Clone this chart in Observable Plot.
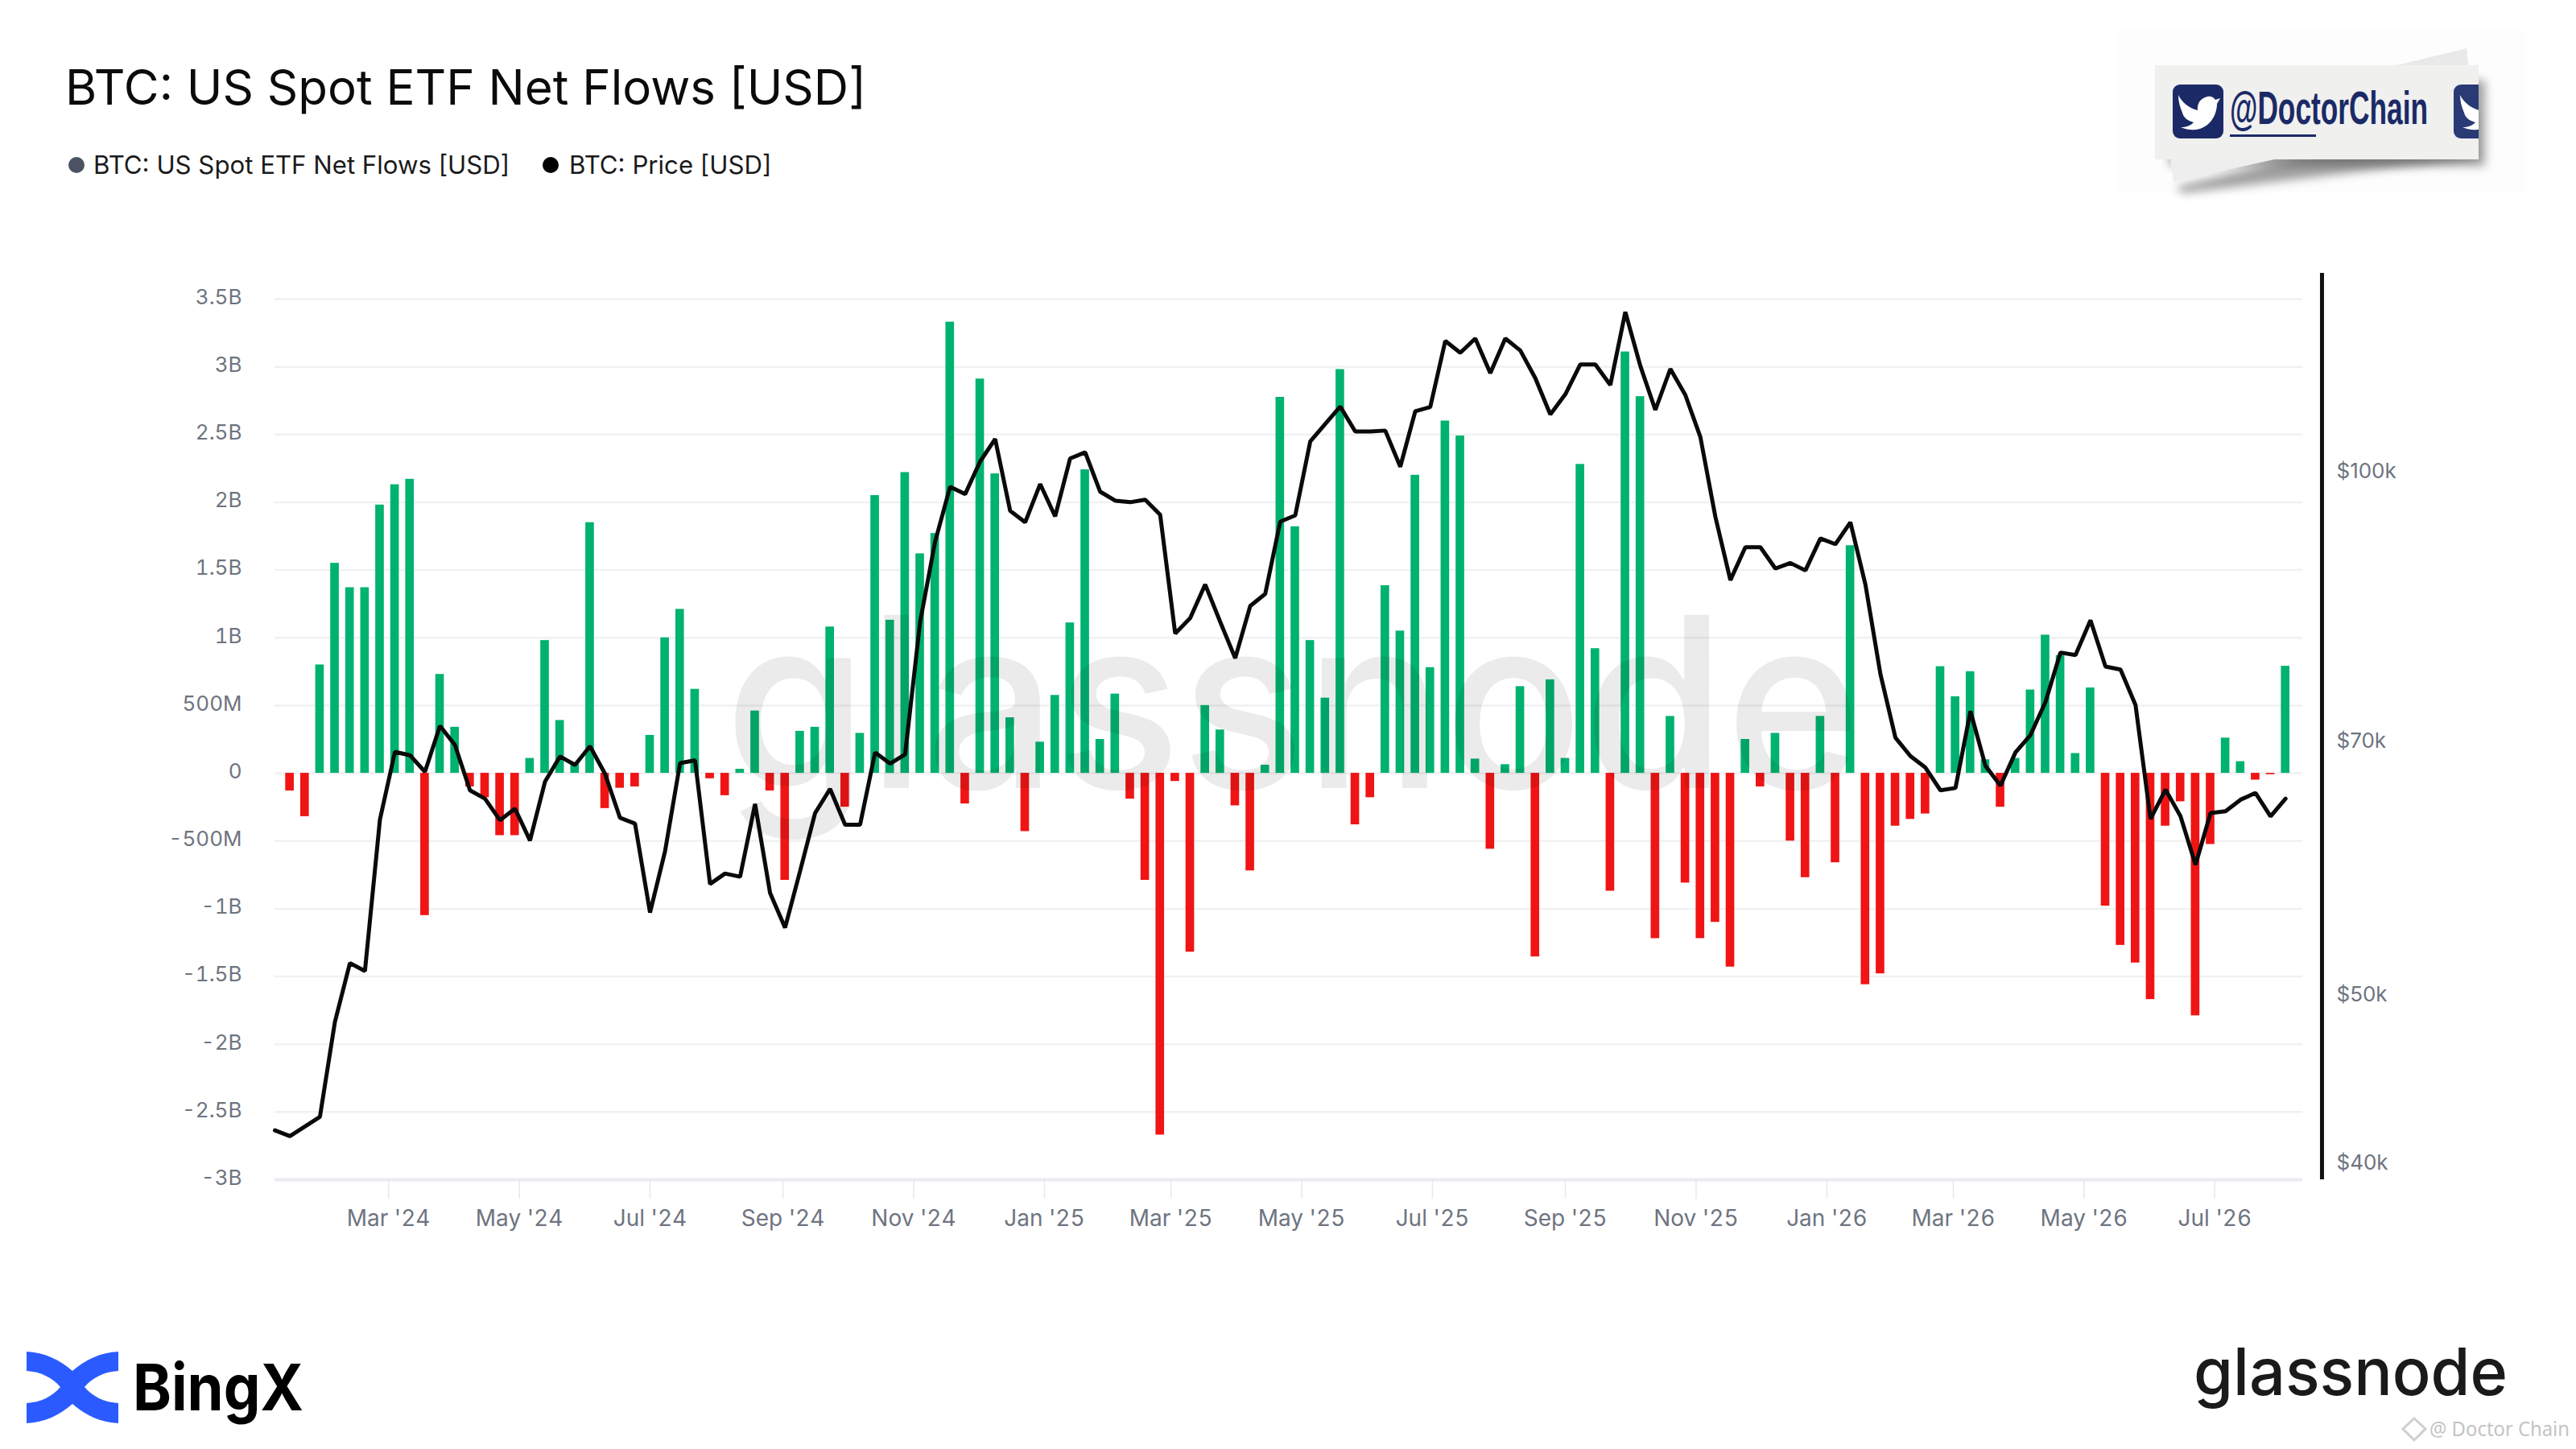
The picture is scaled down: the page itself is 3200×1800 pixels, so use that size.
<!DOCTYPE html>
<html>
<head>
<meta charset="utf-8">
<script src="https://cdn.jsdelivr.net/npm/d3@7"></script>
<script src="https://cdn.jsdelivr.net/npm/@observablehq/plot@0.6"></script>
<style>
html,body{margin:0;padding:0;background:#fff;}
body{width:3200px;height:1800px;position:relative;overflow:hidden;font-family:Inter,sans-serif;}
#head{height:320px;position:relative;}
#title{position:absolute;left:81px;top:72px;font-size:60px;line-height:72px;color:#0b0b0b;font-weight:400;white-space:nowrap;}
.lg{position:absolute;top:186px;font-size:31.2px;line-height:38px;color:#1a1a1a;white-space:nowrap;}
.dot{position:absolute;top:195px;width:20px;height:20px;border-radius:50%;}
#chart{position:absolute;left:0;top:320px;}
#over{position:absolute;left:0;top:0;pointer-events:none;}
</style>
</head>
<body>
<div id="head">
  <div id="title">BTC: US Spot ETF Net Flows [USD]</div>
  <div class="dot" style="left:85px;background:#4a5264"></div>
  <div class="lg" style="left:116px">BTC: US Spot ETF Net Flows [USD]</div>
  <div class="dot" style="left:674px;background:#000"></div>
  <div class="lg" style="left:707px">BTC: Price [USD]</div>
</div>
<div id="chart"></div>
<svg id="over" width="3200" height="1800" viewBox="0 0 3200 1800" xmlns="http://www.w3.org/2000/svg">
  <defs>
    <filter id="sh" x="-10%" y="-30%" width="120%" height="160%"><feGaussianBlur stdDeviation="6"/></filter>
    <clipPath id="paper"><rect x="2677" y="81" width="402" height="117"/></clipPath>
    <g id="bird"><path d="M0 0 C4 8 12 16 24 19 C23 11 27 4 36 2 C41 1 44 3 46 6 L52 4 L48 11 C48 26 38 41 22 43 C14 44 8 42 3 40 C10 40 15 38 19 34 C11 32 6 27 5 22 C2 15 0 8 0 0 Z" fill="#fff"/></g>
  </defs>
  <text x="900" y="979" font-family="Inter" font-size="296" font-weight="500" textLength="1412" lengthAdjust="spacingAndGlyphs" fill="rgba(0,0,0,0.08)">glassnode</text>

  <rect x="2629" y="38" width="507" height="202" fill="#fdfdfd"/>
  <polygon points="2704,232 3074,140 3074,196 2710,240" fill="#555" opacity=".55" filter="url(#sh)"/>
  <rect x="2695" y="100" width="392" height="106" fill="#555" opacity=".55" filter="url(#sh)"/>
  <polygon points="2696,198 2700,226 2870,188 2870,160" fill="#eeeeee"/>
  <polygon points="2940,90 3064,60 3067,90" fill="#e9e9e9"/>
  <rect x="2677" y="81" width="402" height="117" fill="#f0f0ef"/>
  <rect x="2699" y="105" width="63" height="67" rx="9" fill="#1b2a66"/>
  <use href="#bird" x="2706" y="118"/>
  <text x="2770" y="154" font-family="Liberation Sans Narrow, Liberation Sans" font-weight="700" font-size="58" textLength="246" lengthAdjust="spacingAndGlyphs" fill="#1b2a66">@DoctorChain</text>
  <rect x="2770" y="167" width="107" height="3" fill="#1b2a66"/>
  <g clip-path="url(#paper)">
    <rect x="3048" y="105" width="63" height="67" rx="9" fill="#2a3a75"/>
    <use href="#bird" x="3056" y="118"/>
  </g>

  <path d="M33 1679 C55 1680 74 1689 90 1703 C106 1689 125 1680 147 1679 L147 1703 C130 1704 115 1711 105 1723 C115 1735 130 1742 147 1743 L147 1768 C125 1767 106 1758 90 1744 C74 1758 55 1767 33 1768 L33 1743 C50 1742 65 1735 75 1723 C65 1711 50 1704 33 1703 Z" fill="#2b5bff"/>
  <text x="165" y="1752" font-family="Inter" font-weight="700" font-size="80" textLength="212" lengthAdjust="spacingAndGlyphs" fill="#000">BingX</text>

  <text x="2725" y="1733" font-family="Inter" font-weight="500" font-size="81" textLength="390" lengthAdjust="spacingAndGlyphs" fill="#1a1a1a">glassnode</text>
  <path d="M2999 1762 L3013 1775 L2999 1789 L2985 1775 Z" fill="none" stroke="#cfcfcf" stroke-width="3"/>
  <text x="3018" y="1784" font-family="Noto Sans" font-size="25" textLength="174" lengthAdjust="spacingAndGlyphs" fill="#c4c4c4">@ Doctor Chain</text>
</svg>
<script>
// Weekly net flows, USD billions
const flowStart = "2024-01-15";
const flows = [
 -0.13,-0.32,0.80,1.55,1.37,1.37,1.98,2.13,2.17,-1.05,
 0.73,0.34,-0.10,-0.18,-0.46,-0.46,0.11,0.98,0.39,0.08,
 1.85,-0.26,-0.11,-0.10,0.28,1.00,1.21,0.62,-0.04,-0.165,
 0.03,0.46,-0.13,-0.79,0.31,0.34,1.08,-0.25,0.295,2.05,
 1.13,2.22,1.62,1.77,3.33,-0.226,2.91,2.21,0.41,-0.43,
 0.23,0.575,1.11,2.24,0.25,0.585,-0.19,-0.79,-2.67,-0.06,
 -1.32,0.50,0.32,-0.24,-0.72,0.06,2.775,1.82,0.98,0.555,
 2.98,-0.38,-0.18,1.385,1.05,2.20,0.78,2.60,2.49,0.105,
 -0.56,0.064,0.64,-1.355,0.69,0.11,2.28,0.92,-0.87,3.11,
 2.78,-1.22,0.42,-0.81,-1.22,-1.10,-1.43,0.25,-0.10,0.295,
 -0.50,-0.77,0.42,-0.66,1.68,-1.56,-1.48,-0.39,-0.34,-0.30,
 0.787,0.565,0.75,0.10,-0.25,0.11,0.615,1.02,0.87,0.146,
 0.63,-0.98,-1.27,-1.40,-1.67,-0.39,-0.21,-1.79,-0.525,0.26,
 0.086,-0.05,-0.01,0.79
];
// Weekly BTC price, USD
const priceStart = "2024-01-08";
const prices = [
 41760,41440,41970,42510,48220,52130,51580,63060,68980,68670,
 67180,71400,69610,65550,64830,63000,63980,61330,66300,68560,
 67790,69500,67000,63200,62720,55740,60450,67950,68210,57890,
 58700,58450,64370,57210,54630,58890,63600,65670,62630,62630,
 68930,67910,68750,81960,91150,98040,97080,101380,104450,94960,
 93520,98390,94260,101790,102620,97400,96250,96050,96360,94450,
 80700,82370,86120,81960,78100,83700,85050,93610,94380,104100,
 106550,109040,105500,105500,105620,100680,108370,108980,118960,117100,
 119340,113990,119340,117460,113220,107900,110830,115300,115300,112200,
 123600,115060,108550,114620,110710,104720,94210,86620,90490,90490,
 87960,88610,87740,91540,90850,93520,86120,76470,70290,68590,
 67550,65550,65750,72800,67710,65950,68930,70540,73700,78690,
 78430,82140,77240,76930,73410,63110,65610,63330,59390,63600,
 63760,64740,65320,63330,64830
];
const xTickDates = ["2024-03-01","2024-05-01","2024-07-01","2024-09-01","2024-11-01","2025-01-01","2025-03-01","2025-05-01","2025-07-01","2025-09-01","2025-11-01","2026-01-01","2026-03-01","2026-05-01","2026-07-01"];
const yTickValues = [-3,-2.5,-2,-1.5,-1,-0.5,0,0.5,1,1.5,2,2.5,3,3.5];
const yTickLabels = ["-3B","-2.5B","-2B","-1.5B","-1B","-500M","0","500M","1B","1.5B","2B","2.5B","3B","3.5B"];
const priceTicks = [40000,50000,70000,100000];
const priceTickLabels = ["$40k","$50k","$70k","$100k"];

const GREEN = "#00b26f", RED = "#f01414", GREY = "#6e7480", GRID = "#f0f1f3";

const flowRows = flows.map((v,i)=>({date:d3.utcDay.offset(new Date(flowStart),7*i),v}));
const priceRows = prices.map((v,i)=>({date:d3.utcDay.offset(new Date(priceStart),7*i),v}));
// the price is on its own log axis, laid over the flow axis
const priceToFlow = d3.scaleLog().domain([40000,100000]).range([-2.875,2.225]);
const ticksX = xTickDates.map(d=>new Date(d));
const yLabel = new Map(yTickValues.map((v,i)=>[v,yTickLabels[i]]));
const axisEnd = new Date("2026-08-20");
const barHalf = 2;

const rect = (rows,fill)=>Plot.rect(rows,{
  x1:d=>d3.utcDay.offset(d.date,-barHalf),
  x2:d=>d3.utcDay.offset(d.date,barHalf),
  y1:()=>0, y2:"v", fill});

const chart = Plot.plot({
  width:3200, height:1240,
  marginLeft:341, marginRight:340, marginTop:51, marginBottom:95,
  style:{fontFamily:"Inter, sans-serif",background:"transparent"},
  x:{type:"utc",domain:[new Date(priceStart),new Date("2026-08-11")]},
  y:{domain:[-3,3.5]},
  marks:[
    Plot.ruleY(yTickValues,{stroke:GRID,strokeWidth:2.5}),
    Plot.ruleY([-3],{stroke:"#eaecef",strokeWidth:4}),
    Plot.axisX(ticksX,{label:null,tickSize:24,tickPadding:14,fontSize:28,stroke:"#e6e8eb",strokeWidth:1.5,fill:GREY,tickFormat:d3.utcFormat("%b '%y")}),
    Plot.axisY(yTickValues,{label:null,anchor:"left",tickSize:0,tickPadding:41,fontSize:26,fill:GREY,dy:-2,tickFormat:d=>yLabel.get(d)}),
    rect(flowRows.filter(d=>d.v>=0),GREEN),
    rect(flowRows.filter(d=>d.v<0),RED),
    Plot.line(priceRows,{x:"date",y:d=>priceToFlow(d.v),stroke:"#0a0a0a",strokeWidth:5,curve:"linear",strokeLinejoin:"miter"}),
    Plot.ruleX([axisEnd],{y1:-3,y2:3.69,stroke:"#111",strokeWidth:5}),
    Plot.text(priceTicks,{x:()=>axisEnd,y:d=>priceToFlow(d),text:(d,i)=>priceTickLabels[i],textAnchor:"start",dx:18,fontSize:26,fill:GREY})
  ]
});
document.getElementById("chart").appendChild(chart);
</script>
</body>
</html>
